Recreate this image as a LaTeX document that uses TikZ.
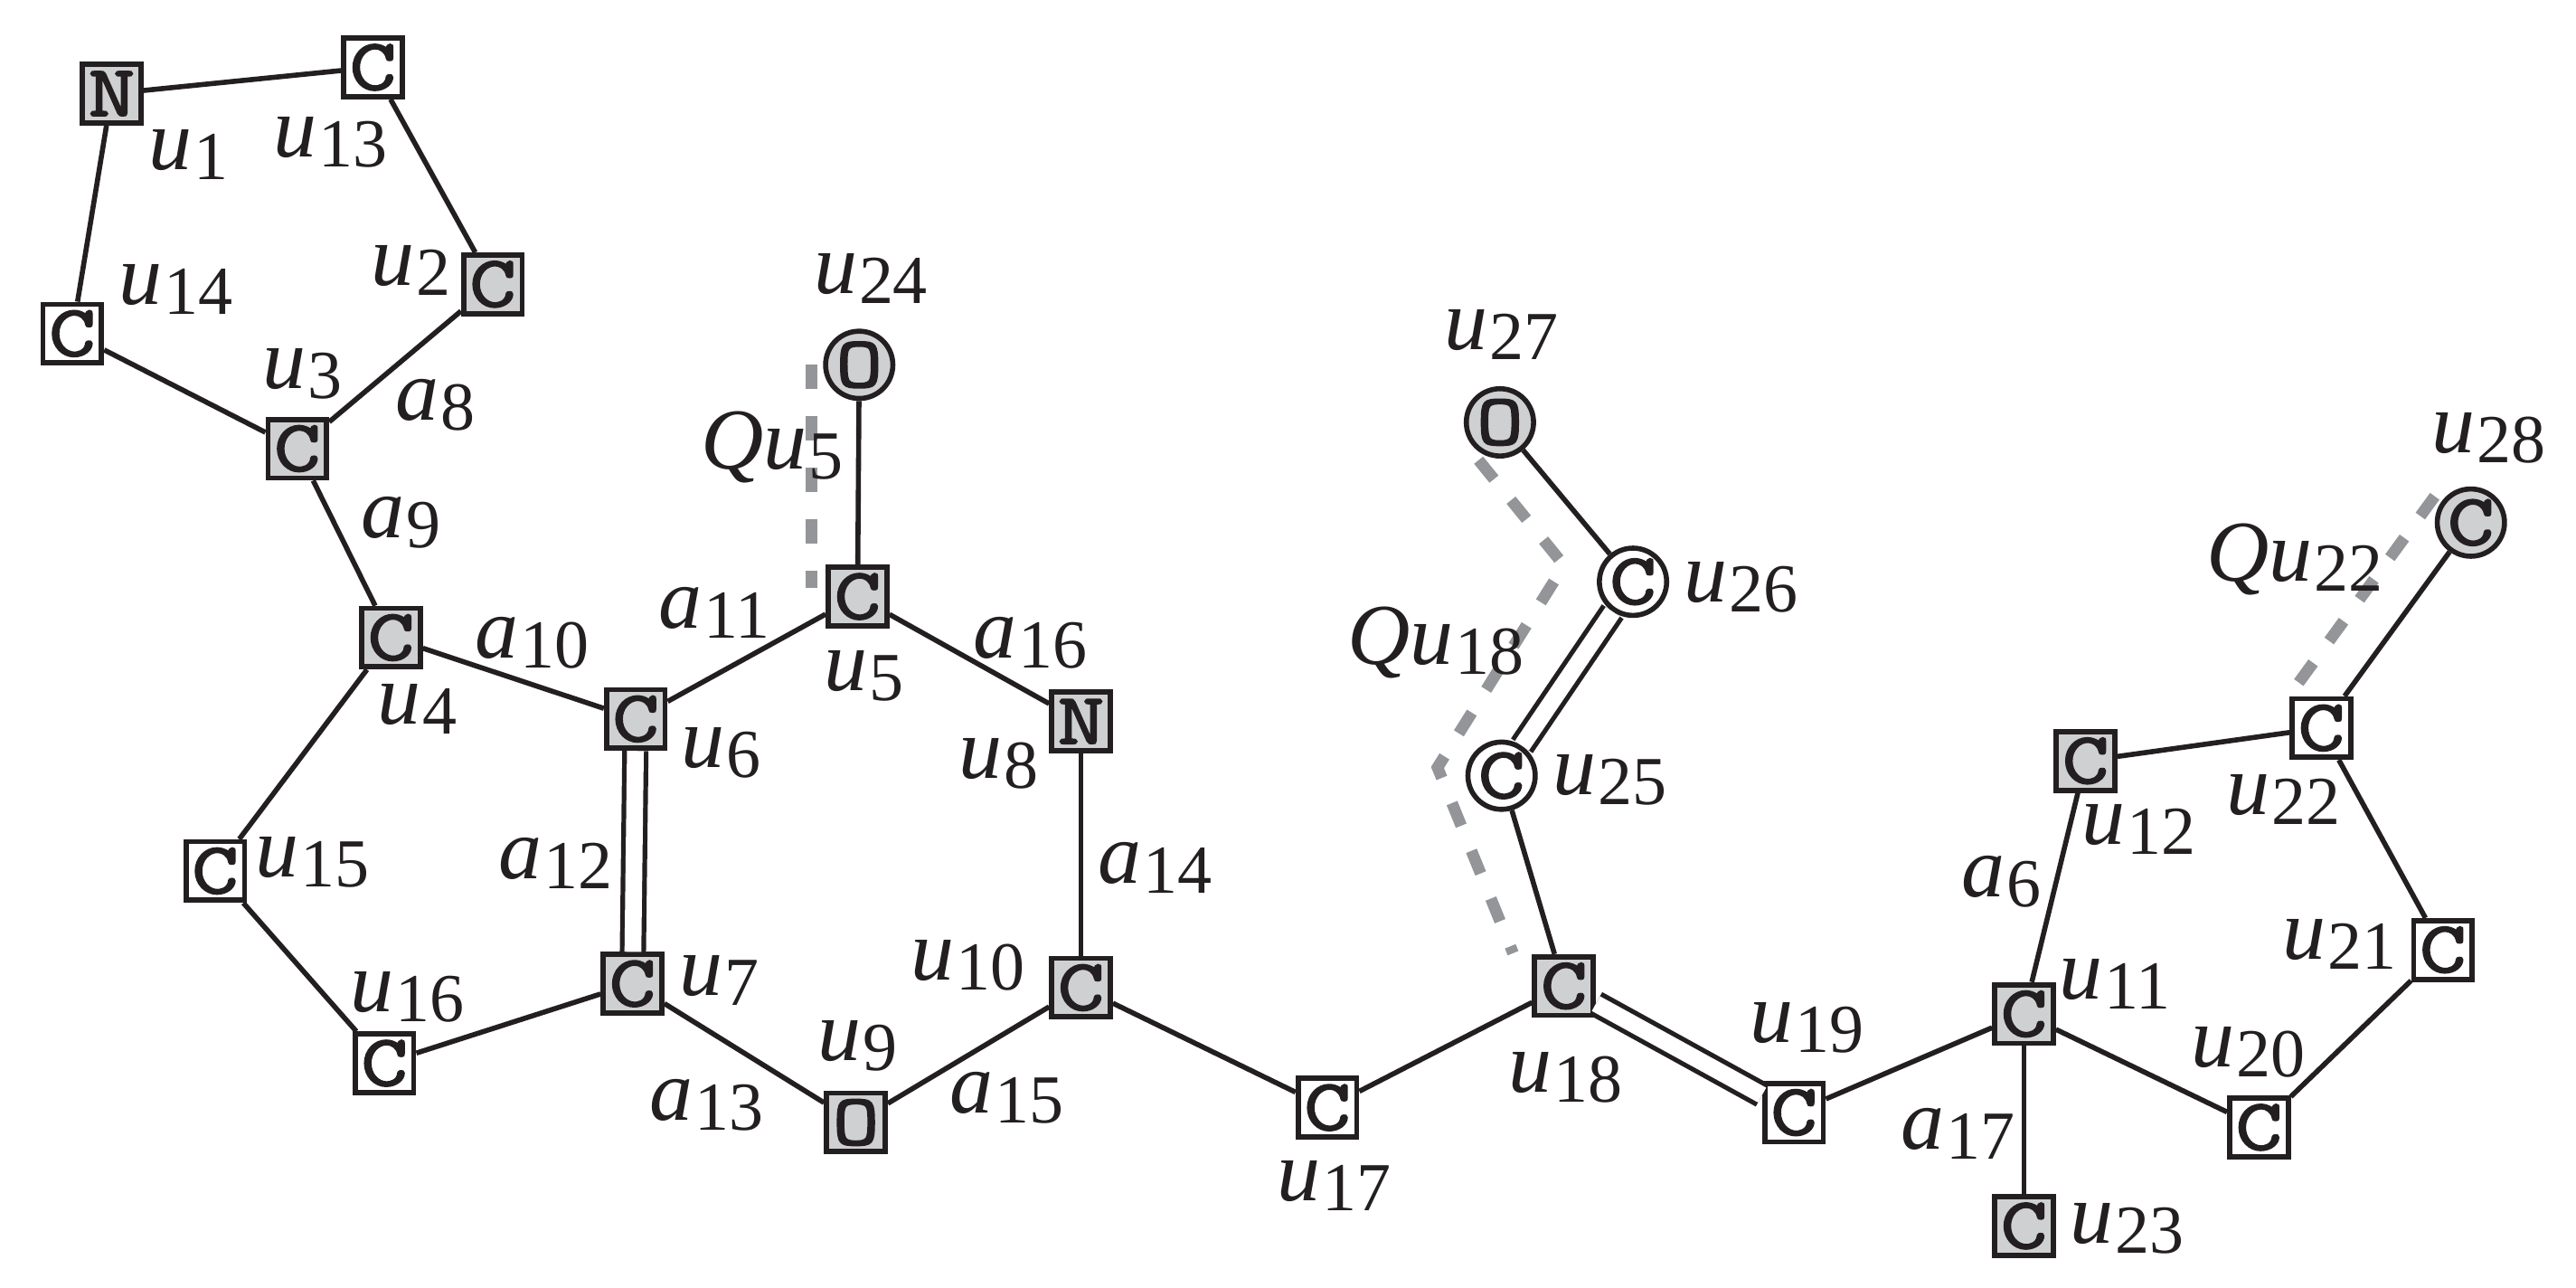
\documentclass[tikz,border=0pt]{standalone}
\usepackage{fontspec}
\setmainfont{Liberation Serif}
\newfontfamily\atomfont[FakeBold=2.4,FakeStretch=1.25]{Latin Modern Mono}
\definecolor{ink}{HTML}{231F20}
\definecolor{nodegray}{HTML}{CFD0D2}
\definecolor{dashgray}{HTML}{939598}
\newcommand{\lb}[2]{\fontsize{48}{48}\selectfont\itshape #1\hspace{1pt}\smash{\raisebox{-5.5pt}{\fontsize{38}{38}\selectfont\upshape #2}}}
\newcommand{\qlb}[1]{\fontsize{48}{48}\selectfont\itshape Q#1}
\tikzset{
  x=0.9085pt,y=-0.9085pt,
  atomtext/.style={font=\atomfont\fontsize{40}{40}\selectfont,text=ink,inner sep=0pt},
  sq/.style={atomtext,rectangle,draw=ink,line width=2.9pt,minimum size=32.4pt,fill=white},
  sqg/.style={sq,fill=nodegray},
  ci/.style={atomtext,circle,draw=ink,line width=2.8pt,minimum size=37.2pt,fill=white},
  cig/.style={ci,fill=nodegray},
  lab/.style={anchor=base,yshift=-9.5pt,inner sep=0pt,text=ink},
  bond/.style={draw=ink,line width=2.8pt},
  dbond/.style={draw=ink,line width=2.6pt,double=white,double distance=9.3pt},
  qdash/.style={draw=dashgray,line width=6.4pt,dash pattern=on 13.5pt off 15pt},
}
\begin{document}
\begin{tikzpicture}
\useasboundingbox (0,0) rectangle (1568,783.2);
% atoms
\node[sqg] (u1) at (68,57) {N};
\node[sq]  (u13) at (227,41) {C};
\node[sqg] (u2) at (300,173) {C};
\node[sq]  (u14) at (44,203) {C};
\node[sqg] (u3) at (181,273) {C};
\node[sqg] (u4) at (238,388) {C};
\node[sqg] (u6) at (387,437.5) {C};
\node[sqg] (u5) at (522,363) {C};
\node[cig] (u24) at (523,222) {O};
\node[sqg] (u8) at (658,439) {N};
\node[sqg] (u10) at (658,601) {C};
\node[sqg] (u9) at (521,683) {O};
\node[sqg] (u7) at (385,598.6) {C};
\node[sq]  (u16) at (234,647) {C};
\node[sq]  (u15) at (131,530) {C};
\node[sq]  (u17) at (808,674) {C};
\node[sqg] (u18) at (952,600) {C};
\node[sq]  (u19) at (1092,677) {C};
\node[ci]  (u25) at (914,472) {C};
\node[ci]  (u26) at (994,354) {C};
\node[cig] (u27) at (913,257) {O};
\node[sqg] (u11) at (1232,617) {C};
\node[sqg] (u12) at (1269.5,463) {C};
\node[sq]  (u22) at (1413,443) {C};
\node[sq]  (u21) at (1487,578) {C};
\node[sq]  (u20) at (1375,686) {C};
\node[sqg] (u23) at (1232,746) {C};
\node[cig] (u28) at (1504,318) {C};
% bonds
\foreach \p/\q in {u1/u13,u13/u2,u2/u3,u1/u14,u14/u3,u3/u4,u4/u6,u4/u15,u15/u16,u16/u7,u6/u5,u5/u24,u5/u8,u8/u10,u10/u9,u9/u7,u10/u17,u17/u18,u18/u25,u26/u27,u19/u11,u11/u12,u12/u22,u22/u28,u22/u21,u21/u20,u20/u11,u11/u23}
  \draw[bond] (\p) -- (\q);
\foreach \p/\q in {u6/u7,u18/u19,u25/u26}
  \draw[dbond] (\p) -- (\q);
% dashed paths
\coordinate (d1a) at (494,222);
\coordinate (d1b) at (494,358);
\coordinate (d2a) at (900,280);
\coordinate (d2b) at (952,344);
\coordinate (d2c) at (875,467);
\coordinate (d2d) at (921,580);
\coordinate (d3a) at (1482,302);
\coordinate (d3b) at (1398,417);
\draw[qdash] (d1a) -- (d1b);
\draw[qdash] (d2a) -- (d2b) -- (d2c) -- (d2d);
\draw[qdash] (d3a) -- (d3b);
% labels
\node[lab] (lu1) at (115,93) {\lb{u}{1}};
\node[lab] (lu13) at (201,85) {\lb{u}{13}};
\node[lab] (lu14) at (107,175) {\lb{u}{14}};
\node[lab] (lu2) at (250,163) {\lb{u}{2}};
\node[lab] (lu3) at (184,226) {\lb{u}{3}};
\node[lab] (la8) at (265,245) {\lb{a}{8}};
\node[lab] (la9) at (244,317) {\lb{a}{9}};
\node[lab] (la10) at (324,390) {\lb{a}{10}};
\node[lab] (la11) at (435,372) {\lb{a}{11}};
\node[lab] (la16) at (627,390) {\lb{a}{16}};
\node[lab] (lu5) at (526,410) {\lb{u}{5}};
\node[lab] (lu4) at (254,430) {\lb{u}{4}};
\node[lab] (lu6) at (439,456.5) {\lb{u}{6}};
\node[lab] (lu8) at (608,463) {\lb{u}{8}};
\node[lab] (la14) at (703,527) {\lb{a}{14}};
\node[lab] (la12) at (338,524) {\lb{a}{12}};
\node[lab] (lu15) at (190,523) {\lb{u}{15}};
\node[lab] (lu16) at (248,605) {\lb{u}{16}};
\node[lab] (lu7) at (438,595) {\lb{u}{7}};
\node[lab] (lu10) at (589,586) {\lb{u}{10}};
\node[lab] (la13) at (430,671) {\lb{a}{13}};
\node[lab] (lu9) at (522,635) {\lb{u}{9}};
\node[lab] (la15) at (613,667) {\lb{a}{15}};
\node[lab] (lu17) at (812,720) {\lb{u}{17}};
\node[lab] (lu18) at (953,654) {\lb{u}{18}};
\node[lab] (lu19) at (1100,624) {\lb{u}{19}};
\node[lab] (lq18) at (874,394) {\qlb{\lb{u}{18}}};
\node[lab] (lu26) at (1060,356) {\lb{u}{26}};
\node[lab] (lu25) at (980,473) {\lb{u}{25}};
\node[lab] (lu24) at (530,168) {\lb{u}{24}};
\node[lab] (lu27) at (914,202) {\lb{u}{27}};
\node[lab] (lq5) at (470,275) {\qlb{\lb{u}{5}}};
\node[lab] (lu11) at (1287.5,597.5) {\lb{u}{11}};
\node[lab] (lu12) at (1302,503.5) {\lb{u}{12}};
\node[lab] (la6) at (1218,535) {\lb{a}{6}};
\node[lab] (lu22) at (1390,485) {\lb{u}{22}};
\node[lab] (lu21) at (1424,573) {\lb{u}{21}};
\node[lab] (lu20) at (1368.5,638.5) {\lb{u}{20}};
\node[lab] (la17) at (1192,689) {\lb{a}{17}};
\node[lab] (lu23) at (1295,746) {\lb{u}{23}};
\node[lab] (lq22) at (1397,343) {\qlb{\lb{u}{22}}};
\node[lab] (lu28) at (1515,265) {\lb{u}{28}};
\end{tikzpicture}
\end{document}
